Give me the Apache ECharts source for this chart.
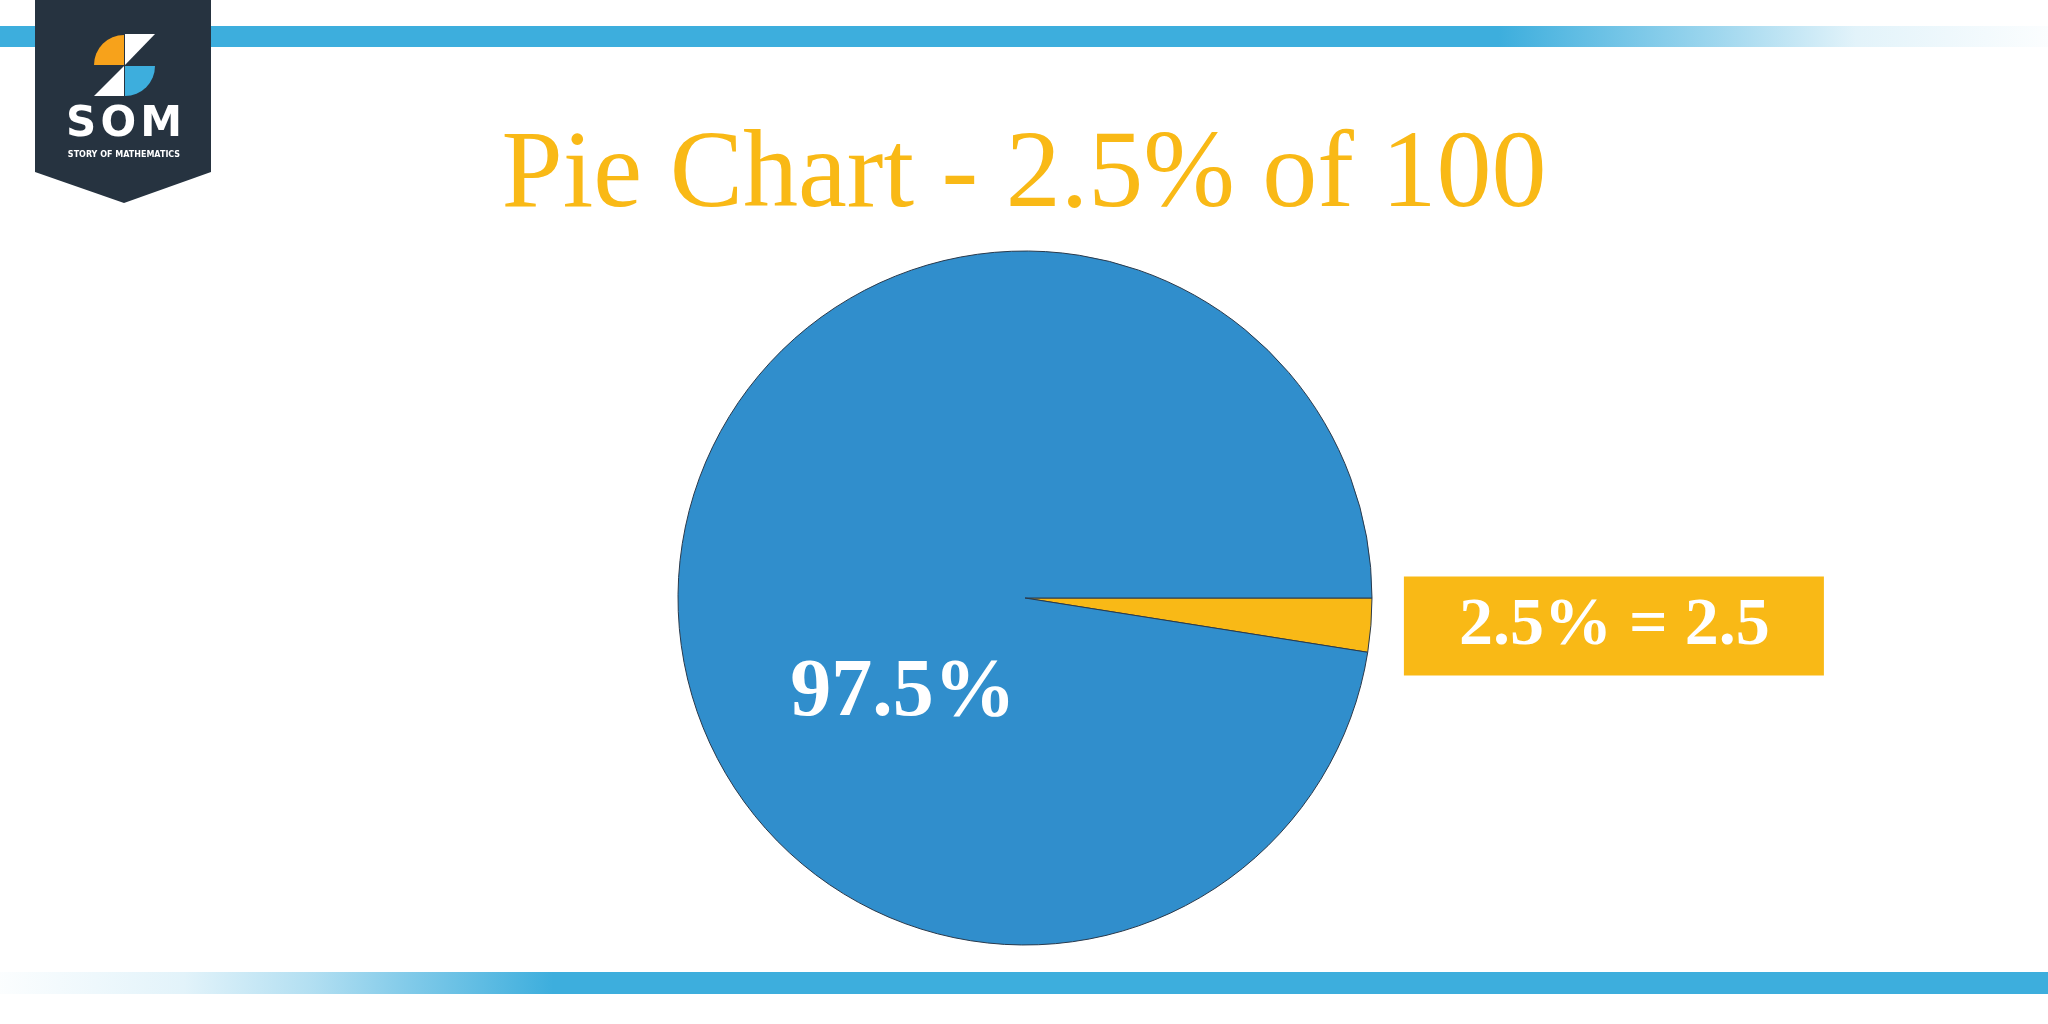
<!DOCTYPE html>
<html>
<head>
<meta charset="utf-8">
<script src="https://cdn.jsdelivr.net/npm/echarts@6/dist/echarts.min.js"></script>
<style>
html,body{margin:0;padding:0;background:#fff;}
#main{width:2048px;height:1024px;}
</style>
</head>
<body>
<div id="main"></div>
<script>
// ---- data ----
const titleText = 'Pie Chart - 2.5% of 100';
const categories = ['Part', 'Rest'];
const values = [2.5, 97.5];
const sliceColors = ['#F9B916', '#308ECC'];

const SERIF = '"Liberation Serif", "Times New Roman", serif';

const chart = echarts.init(document.getElementById('main'));

const pieData = categories.map((name, i) => ({
  name: name,
  value: values[i],
  itemStyle: { color: sliceColors[i] },
  label: i === 0 ? {
    position: 'outside',
    formatter: '{d}% = {c}',
    color: '#fff',
    fontFamily: SERIF,
    fontWeight: 'bold',
    fontSize: 68,
    lineHeight: 70,
    backgroundColor: '#F9B916',
    padding: [15, 55, 14, 55],
    width: 310,
    overflow: 'none',
    align: 'center'
  } : {
    position: 'inside',
    formatter: '{d}%',
    color: '#fff',
    fontFamily: SERIF,
    fontWeight: 'bold',
    fontSize: 82
  }
}));

const option = {
  backgroundColor: '#ffffff',
  animation: false,
  title: {
    text: titleText,
    left: 'center',
    top: 117,
    textStyle: {
      fontFamily: SERIF,
      fontWeight: 'normal',
      fontSize: 110,
      color: '#F9B916'
    }
  },
  graphic: [
    // top bar
    { type: 'rect', z: 0, shape: { x: 0, y: 26, width: 2048, height: 21 },
      style: { fill: new echarts.graphic.LinearGradient(0, 0, 1, 0, [
        { offset: 0, color: 'rgba(61,174,221,1)' },
        { offset: 0.732, color: 'rgba(61,174,221,1)' },
        { offset: 0.837, color: 'rgba(61,174,221,0.5)' },
        { offset: 0.906, color: 'rgba(61,174,221,0.15)' },
        { offset: 1, color: 'rgba(61,174,221,0.02)' }
      ]) } },
    // bottom bar
    { type: 'rect', z: 0, shape: { x: 0, y: 972, width: 2048, height: 22 },
      style: { fill: new echarts.graphic.LinearGradient(0, 0, 1, 0, [
        { offset: 0, color: 'rgba(61,174,221,0.02)' },
        { offset: 0.09, color: 'rgba(61,174,221,0.15)' },
        { offset: 0.153, color: 'rgba(61,174,221,0.4)' },
        { offset: 0.2, color: 'rgba(61,174,221,0.65)' },
        { offset: 0.27, color: 'rgba(61,174,221,1)' },
        { offset: 1, color: 'rgba(61,174,221,1)' }
      ]) } },
    // logo pennant
    { type: 'polygon', z: 5, shape: { points: [[35,0],[211,0],[211,172],[124,203],[35,172]] },
      style: { fill: '#263340' } },
    // orange quarter disc (upper-left)
    { type: 'sector', z: 6, shape: { cx: 124, cy: 65, r: 30, r0: 0, startAngle: Math.PI, endAngle: Math.PI * 1.5 },
      style: { fill: '#F7A21B' } },
    // white triangle upper-right
    { type: 'polygon', z: 6, shape: { points: [[125,34],[155,34],[125,65]] }, style: { fill: '#fff' } },
    // white triangle lower-left
    { type: 'polygon', z: 6, shape: { points: [[124,66],[94,96],[124,96]] }, style: { fill: '#fff' } },
    // blue quarter disc (lower-right)
    { type: 'sector', z: 6, shape: { cx: 125, cy: 66, r: 30, r0: 0, startAngle: 0, endAngle: Math.PI * 0.5 },
      style: { fill: '#3DAEDD' } },
    { type: 'text', z: 6, style: { text: 'S\u200AO\u200AM', x: 124, y: 125, align: 'center', verticalAlign: 'middle',
      font: 'bold 42px "DejaVu Sans"', fill: '#fff' } },
    { type: 'text', z: 6, style: { text: 'STORY OF MATHEMATICS', x: 124, y: 155, align: 'center', verticalAlign: 'middle',
      font: 'bold 8px "DejaVu Sans"', fill: '#fff' } }
  ],
  series: [{
    type: 'pie',
    center: [1025, 598],
    radius: [0, 347],
    startAngle: 0,
    clockwise: true,
    percentPrecision: 1,
    avoidLabelOverlap: false,
    itemStyle: { borderColor: '#2a3a4c', borderWidth: 1 },
    labelLine: { show: false, length: 10, length2: 18 },
    emphasis: { disabled: true },
    labelLayout: function (params) {
      if (params.dataIndex === 1) {
        return { dx: 54, dy: 110 };
      }
      return {};
    },
    data: pieData
  }]
};
chart.setOption(option);
</script>
</body>
</html>
